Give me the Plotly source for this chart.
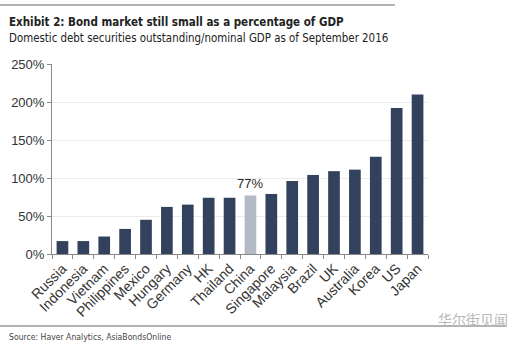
import plotly.graph_objects as go

# Domestic debt securities outstanding / nominal GDP, Sep 2016 (%)
countries = ["Russia", "Indonesia", "Vietnam", "Philippines", "Mexico", "Hungary",
             "Germany", "HK", "Thailand", "China", "Singapore", "Malaysia", "Brazil",
             "UK", "Australia", "Korea", "US", "Japan"]
debt_to_gdp = [17, 17, 23, 33, 45, 62, 65, 74, 74, 77, 79, 96, 104, 109, 111, 128, 192, 210]
highlight = "China"
y_ticks = [0, 50, 100, 150, 200, 250]

W, H = 527, 344
L, R, T, B = 52, 428, 64, 254  # plot area in pixels


def px(x):
    return (x - L) / (R - L)


def py(y):
    return (B - y) / (B - T)


dark = "#32425C"
light = "#B3BAC5"
colors = [light if c == highlight else dark for c in countries]

fig = go.Figure(go.Bar(x=countries, y=debt_to_gdp, marker_color=colors,
                       marker_line_width=0, width=0.56))

hi = countries.index(highlight)
fig.add_annotation(x=highlight, y=debt_to_gdp[hi], text=f"{debt_to_gdp[hi]}%",
                   showarrow=False, yanchor="bottom", yshift=2,
                   font=dict(family="Liberation Sans", size=13, color="#2A2A2A"))

narrow = "DejaVu Sans Condensed, Liberation Sans, sans-serif"
fig.add_annotation(xref="paper", yref="paper", x=px(7), y=py(22), xanchor="left",
                   yanchor="middle", showarrow=False,
                   text="<b>Exhibit 2: Bond market still small as a percentage of GDP</b>",
                   font=dict(family=narrow, size=11.5, color="#222222"))
fig.add_annotation(xref="paper", yref="paper", x=px(7), y=py(38), xanchor="left",
                   yanchor="middle", showarrow=False,
                   text="Domestic debt securities outstanding/nominal GDP as of September 2016",
                   font=dict(family=narrow, size=11.4, color="#222222"))
fig.add_annotation(xref="paper", yref="paper", x=px(7), y=py(337), xanchor="left",
                   yanchor="middle", showarrow=False,
                   text="Source: Haver Analytics, AsiaBondsOnline",
                   font=dict(family=narrow, size=8.6, color="#444444"))
fig.add_annotation(xref="paper", yref="paper", x=px(473), y=py(319), xanchor="center",
                   yanchor="middle", showarrow=False, text="华尔街见闻",
                   font=dict(family="Noto Sans CJK SC", size=14, color="#B8B8B8"))

fig.add_shape(type="line", xref="paper", yref="paper", x0=px(0), x1=px(395),
              y0=py(5), y1=py(5), line=dict(color="#666666", width=1))
fig.add_shape(type="line", xref="paper", yref="paper", x0=px(0), x1=px(506),
              y0=py(326), y1=py(326), line=dict(color="#666666", width=1))

fig.update_layout(
    width=W, height=H,
    margin=dict(l=L, r=W - R, t=T, b=H - B, pad=0),
    paper_bgcolor="white", plot_bgcolor="white",
    showlegend=False,
    font=dict(family="Liberation Sans", color="#333333"),
)
fig.update_xaxes(
    type="category", tickson="boundaries", ticks="outside", ticklen=4,
    tickcolor="#888888", showline=True, linecolor="#888888", linewidth=1,
    tickangle=-45, tickfont=dict(size=14, color="#333333"), showgrid=False,
)
fig.update_yaxes(
    range=[0, 250], tickvals=y_ticks, ticktext=[f"{v}%" for v in y_ticks],
    ticks="outside", ticklen=4, tickcolor="#888888", showline=True,
    linecolor="#888888", linewidth=1, showgrid=True, gridcolor="#EBEBEB",
    gridwidth=1, zeroline=False, tickfont=dict(size=13, color="#333333"),
)

fig.write_html("out.html")
